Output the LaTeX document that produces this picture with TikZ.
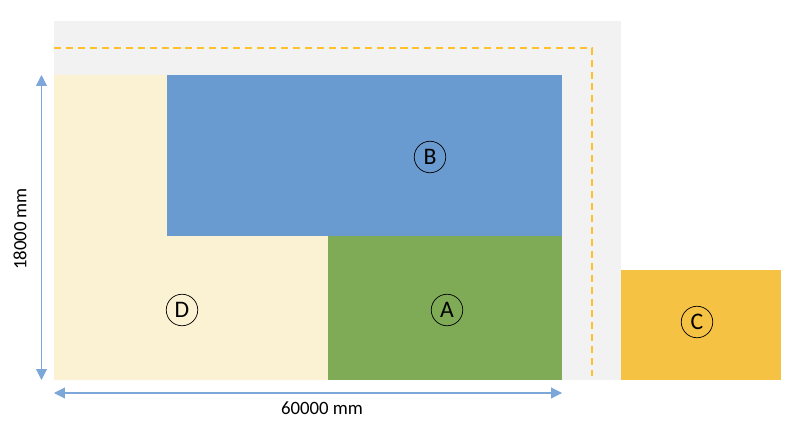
\documentclass[tikz,border=0pt]{standalone}
\usepackage{fontspec}
\setmainfont{Carlito}
\usepackage{xcolor}
\usetikzlibrary{arrows.meta}

\definecolor{yardgrey}{HTML}{F2F2F2}
\definecolor{zoneD}{HTML}{FBF1D3}
\definecolor{zoneB}{HTML}{6A9BD0}
\definecolor{zoneA}{HTML}{7FAB56}
\definecolor{zoneC}{HTML}{F5C243}
\definecolor{limit}{HTML}{FFC02A}
\definecolor{dimline}{HTML}{7DA7D9}

\begin{document}
\begin{tikzpicture}[
		x=0.02cm, y=-0.02cm,
		zone tag/.style={circle, draw=black, thin, minimum size=0.63cm, inner sep=0pt, font=\fontsize{13.5}{13.5}\selectfont},
		dim line/.style={dimline, line width=0.6pt, {Triangle[length=2.2mm,width=2.2mm]}-{Triangle[length=2.2mm,width=2.2mm]}},
		dim text/.style={font=\fontsize{10.7}{12}\selectfont},
		limit line/.style={limit, line width=1.4pt, dash pattern=on 4pt off 2.8pt}
		]
	\useasboundingbox (0,0) rectangle (800,429);
	
	% Yard
	\fill[yardgrey] (54,21) rectangle (621,380);
	\draw[limit line] (54,48) -- (592,48) -- (592,376);
	
	% Zones
	\fill[zoneD] (54,75) -- (167,75) -- (167,236) -- (328,236) -- (328,380) -- (54,380) -- cycle;
	\fill[zoneB] (167,75) rectangle (562,236);
	\fill[zoneA] (328,236) rectangle (562,380);
	\fill[zoneC] (621,270) rectangle (781,380);
	
	% Zone tags
	\foreach \name/\x/\y in {B/430/157, A/447/310, D/182/310, C/697/322}{
		\node[zone tag] (tag\name) at (\x,\y) {\name};
	}
	
	% Dimensions
	\coordinate (hstart) at (54,393);
	\coordinate (hend) at (562,393);
	\coordinate (vtop) at (41.5,75);
	\coordinate (vbottom) at (41.5,380);
	\draw[dim line] (hstart) -- (hend);
	\draw[dim line] (vbottom) -- (vtop);
	\node[dim text] (width) at (322,408) {60000 mm};
	\node[dim text, rotate=90] (height) at (20,229) {18000 mm};
	
\end{tikzpicture}
\end{document}
